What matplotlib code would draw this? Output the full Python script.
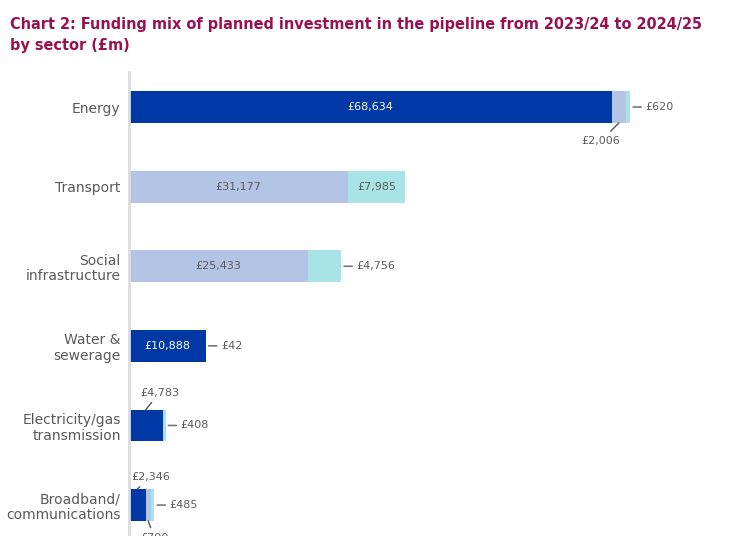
import matplotlib.pyplot as plt

# data (£m)
sectors = ["Energy", "Transport", "Social\ninfrastructure", "Water &\nsewerage",
           "Electricity/gas\ntransmission", "Broadband/\ncommunications"]
dark_vals = [68634, 0, 0, 10888, 4783, 2346]
light_vals = [2006, 31177, 25433, 0, 0, 790]
cyan_vals = [620, 7985, 4756, 42, 408, 485]

# where each value label goes (series index -> per-sector placement)
placement = {
    0: ["in", None, None, "in", "above", "above_close"],
    1: ["below_left", "in", "in", None, None, "below_right"],
    2: ["right", "in", "right", "right", "right", "right"],
}
# pixel offsets of the outside labels
offsets = {"right": (15, 0), "below_left": (-18, -18), "below_right": (6, -17),
           "above": (14, 17), "above_close": (13, 12)}

colors = ["#0039a6", "#b3c4e4", "#a8e4e6"]
text_grey = "#5a5a5a"

fig = plt.figure(figsize=(7.38, 5.36), dpi=100)
ax = fig.add_axes([129 / 738, -24 / 536, 598 / 738, 488 / 536])

series = [dark_vals, light_vals, cyan_vals]
ypos = list(range(len(sectors)))
lefts = [0] * len(sectors)
for si, vals in enumerate(series):
    ax.barh(ypos, vals, left=lefts, height=0.40, color=colors[si], zorder=2)
    for i, v in enumerate(vals):
        mode = placement[si][i]
        if v == 0 or mode is None:
            continue
        x0 = lefts[i]
        mid = x0 + v / 2
        end = x0 + v
        lab = "£{:,}".format(v)
        if mode == "in":
            c = "white" if si == 0 else text_grey
            ax.text(mid, i, lab, ha="center", va="center", fontsize=8, color=c, zorder=3)
        elif mode == "right":
            ax.annotate(lab, xy=(end, i), xytext=offsets[mode], textcoords="offset pixels",
                        ha="left", va="center", fontsize=8, color=text_grey,
                        arrowprops=dict(arrowstyle="-", color="#777777", lw=1.2,
                                        shrinkA=1, shrinkB=2))
        else:
            yy = i + 0.2 if mode.startswith("below") else i - 0.2
            ax.annotate(lab, xy=(mid, yy), xytext=offsets[mode], textcoords="offset pixels",
                        ha="center", va="center", fontsize=8, color=text_grey,
                        arrowprops=dict(arrowstyle="-", color="#555555", lw=1,
                                        shrinkA=2, shrinkB=0))
    lefts = [a + b for a, b in zip(lefts, vals)]

ax.set_xlim(0, 85000)
ax.set_ylim(5.69, -0.44)
ax.set_yticks(ypos)
ax.set_yticklabels(sectors, fontsize=10, color=text_grey, linespacing=1.15)
ax.tick_params(axis="y", length=0, pad=6)
ax.set_xticks([])
for s in ["top", "right", "bottom"]:
    ax.spines[s].set_visible(False)
ax.spines["left"].set_color("#dcdcdc")
ax.spines["left"].set_linewidth(2)

fig.text(10 / 738, 1 - 17 / 536,
         "Chart 2: Funding mix of planned investment in the pipeline from 2023/24 to 2024/25\nby sector (£m)",
         ha="left", va="top", fontsize=11.6, fontweight="bold", color="#9a0f4f",
         family="DejaVu Sans", fontstretch="condensed", linespacing=1.5)

fig.savefig("out.png", dpi=100)
